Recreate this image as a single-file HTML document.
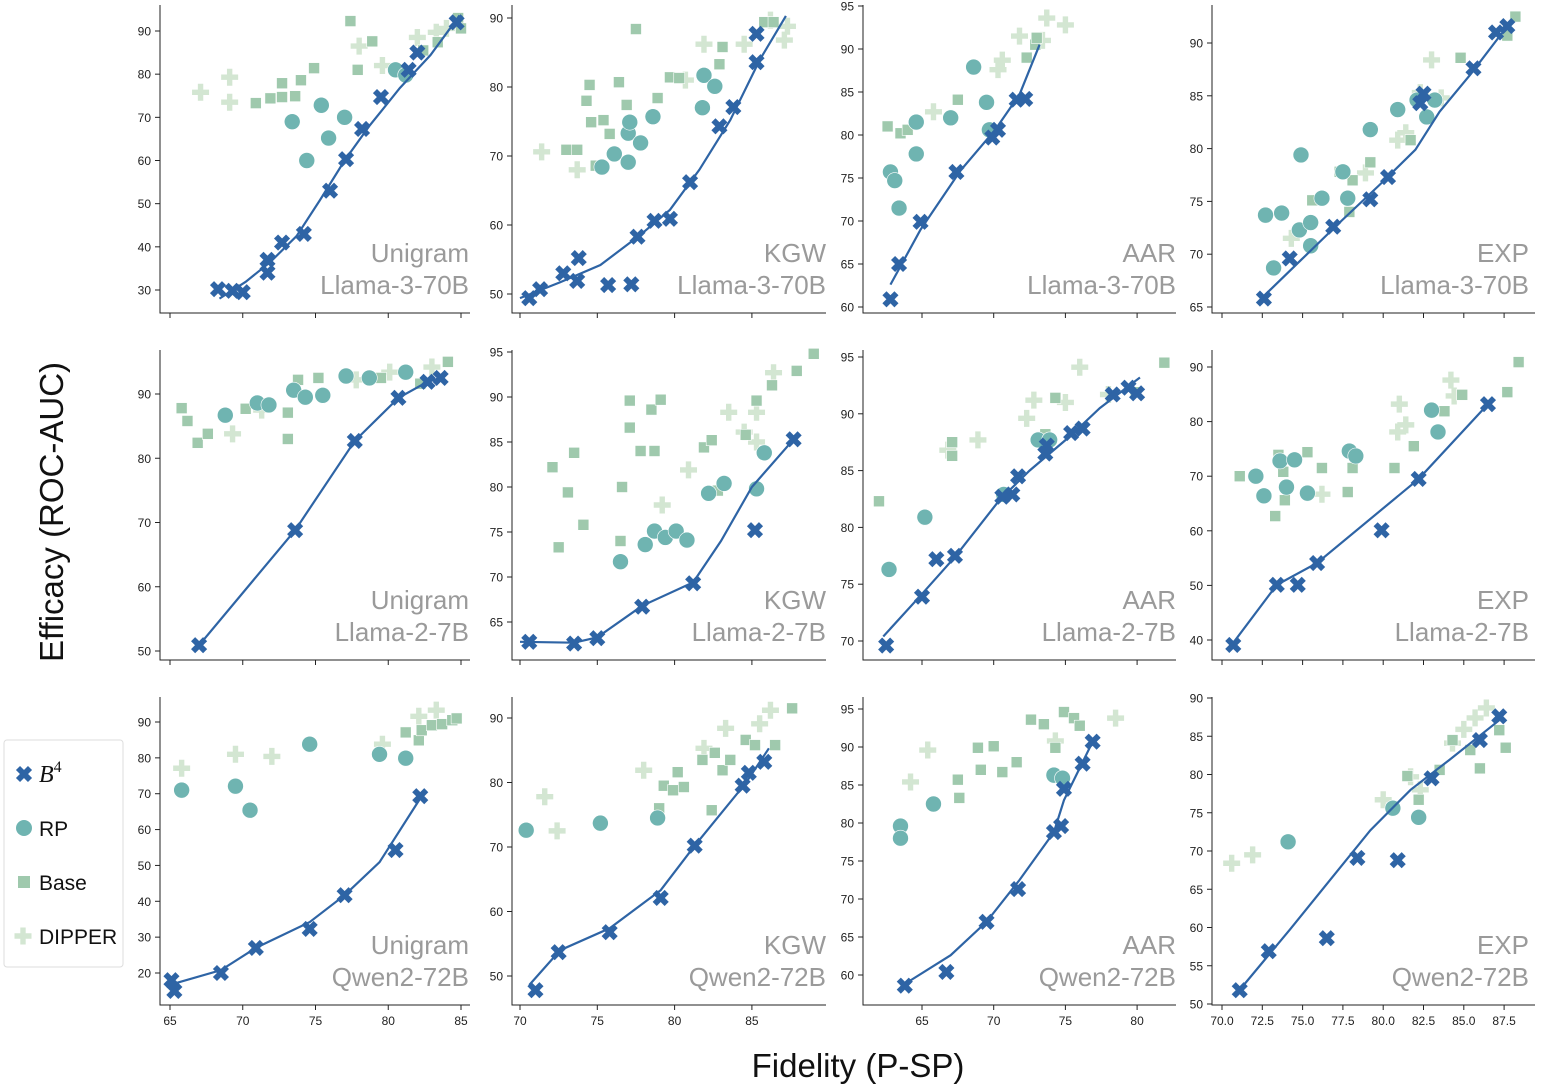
<!DOCTYPE html>
<html><head><meta charset="utf-8"><style>
body{margin:0;background:#fff;}
svg{display:block;font-family:"Liberation Sans","DejaVu Sans",sans-serif;}
</style></head><body>
<svg id="chart" width="1544" height="1086" viewBox="0 0 1544 1086"></svg>
<script>
// ---- data (x = fidelity, y = efficacy) ----
const u3_b4=[[68.3,30.2],[69.3,29.8],[70,29.5],[71.7,37],[71.7,34],[72.7,41],[74.2,43],[76,53],[77.1,60.3],[78.2,67.3],[79.5,74.7],[81.4,81],[82,85],[84.7,92]];
const u3_line=[[68.4,28],[70.2,31.9],[71.9,36.5],[73.7,42.5],[75.3,50.8],[77,60],[78.7,68],[80.8,76.8],[82.9,84.4],[84.9,93.6]];
const u3_rp=[[73.4,69],[74.4,60],[75.4,72.8],[75.9,65.2],[77,70],[80.5,81],[81.2,79.8]];
const u3_base=[[70.9,73.3],[71.9,74.4],[72.7,77.9],[72.7,74.7],[73.6,74.9],[74,78.6],[74.9,81.4],[77.4,92.3],[77.9,81],[78.9,87.6],[82.4,85.5],[83.4,87.4],[84.8,93],[85,90.6]];
const u3_dip=[[67.1,75.8],[69.1,79.3],[69.1,73.5],[78,86.5],[79.6,82],[82,88.5],[83.3,89.7],[84,90.6]];

const k3_b4=[[70.6,49.4],[71.3,50.7],[72.8,53],[73.7,51.9],[73.8,55.2],[75.7,51.3],[77.2,51.4],[77.6,58.3],[78.7,60.6],[79.7,60.9],[81,66.2],[82.9,74.3],[83.8,77.1],[85.3,83.6],[85.3,87.7]];
const k3_line=[[70,49.4],[72.6,51.7],[75.2,54.2],[77.8,58.6],[79.7,62.2],[81.6,68],[83.6,75.2],[85.5,83.9],[87.2,90.3]];
const k3_rp=[[75.3,68.4],[76.1,70.3],[77,73.3],[77.1,74.9],[77.8,71.9],[77,69.1],[78.6,75.7],[81.8,77],[81.9,81.7],[82.6,80.1]];
const k3_base=[[73,70.9],[73.7,70.9],[74.5,80.3],[74.3,78],[74.6,74.9],[75.4,75.2],[75.8,73.2],[74.9,68.6],[76.4,80.7],[76.9,77.4],[77.5,88.4],[78.9,78.4],[79.7,81.4],[80.3,81.3],[82.9,83.3],[83.1,85.8],[85.8,89.4],[86.4,89.4]];
const k3_dip=[[71.4,70.6],[73.7,68],[80.7,81],[81.9,86.2],[84.5,86.2],[87.1,86.8],[86.2,89.7],[87.3,88.8]];

const a3_b4=[[62.8,60.9],[63.4,65],[64.9,69.9],[67.4,75.7],[69.9,79.7],[70.3,80.6],[71.6,84.1],[72.2,84.2]];
const a3_line=[[62.8,62.6],[64.9,69],[67.7,75.9],[70.1,80.6],[71.8,84.7],[73.2,90.5]];
const a3_rp=[[62.8,75.7],[63.1,74.7],[63.4,71.5],[64.6,81.5],[64.6,77.8],[67,82],[68.6,87.9],[69.5,83.8],[69.7,80.6]];
const a3_base=[[62.6,81],[63.5,80.2],[64,80.6],[67.5,84.1],[72.3,89],[72.9,90.5],[73,91.3]];
const a3_dip=[[65.8,82.7],[70.3,87.6],[70.6,88.7],[71.8,91.5],[73.7,93.6],[75,92.8],[73.4,91]];

const e3_b4=[[72.6,65.8],[74.2,69.6],[76.9,72.6],[79.2,75.2],[80.3,77.3],[82.3,84.3],[82.5,85.2],[85.6,87.6],[87,91],[87.7,91.6]];
const e3_line=[[72.5,65.9],[74.8,69.3],[77.3,73],[79.8,76.6],[82,79.9],[83.5,83.5],[85.4,87],[87.9,92]];
const e3_rp=[[72.7,73.7],[73.2,68.7],[73.7,73.9],[74.8,72.3],[74.9,79.4],[75.5,73],[75.5,70.8],[76.2,75.3],[77.5,77.8],[77.8,75.3],[79.2,81.8],[80.9,83.7],[82.1,84.6],[82.7,83],[83.2,84.6]];
const e3_base=[[75.6,75.1],[77.3,77.8],[77.9,74],[78.1,77],[79.2,78.7],[81.7,80.8],[84.8,88.6],[87.7,90.7],[88.2,92.5]];
const e3_dip=[[74.3,71.5],[78.9,77.7],[80.9,80.8],[81.4,81.5],[82.3,85.3],[83,88.4],[83.6,84.8]];

const u2_b4=[[67,50.9],[73.6,68.8],[77.7,82.7],[80.7,89.4],[82.7,91.9],[83.6,92.5]];
const u2_line=[[67,50.9],[73.6,68.8],[77.7,82.7],[80.7,89.4],[82.7,91.9],[83.6,92.5]];
const u2_rp=[[68.8,86.7],[71,88.6],[71.8,88.3],[73.5,90.6],[74.3,89.5],[75.5,89.8],[77.1,92.8],[78.7,92.5],[81.2,93.4]];
const u2_base=[[65.8,87.8],[66.2,85.8],[66.9,82.4],[67.6,83.8],[70.2,87.7],[73.1,87.1],[73.1,83],[73.8,92.2],[75.2,92.5],[79.5,92.5],[82.2,91.6],[84.1,95]];
const u2_dip=[[69.3,83.8],[71.3,87.5],[77.8,92.2],[80.1,93.4],[83,94.2]];

const k2_b4=[[70.6,62.8],[73.5,62.6],[75,63.2],[77.9,66.7],[81.2,69.3],[85.2,75.2],[87.7,85.3]];
const k2_line=[[70,62.8],[73.5,62.7],[75,63.3],[77.9,66.8],[81.2,69.4],[83,74],[85,80],[87.7,85.3]];
const k2_rp=[[76.5,71.7],[78.1,73.6],[78.7,75.1],[79.4,74.4],[80.1,75.1],[80.8,74.1],[82.2,79.3],[83.2,80.4],[85.3,79.8],[85.8,83.8]];
const k2_base=[[72.1,82.2],[72.5,73.3],[73.1,79.4],[73.5,83.8],[74.1,75.8],[76.6,80],[76.5,74],[77.1,89.6],[77.1,86.6],[77.8,84],[78.5,88.6],[78.7,84],[79.1,89.7],[81.9,84.4],[82.4,85.2],[82.8,79.6],[84.6,85.8],[85.3,89.6],[86.3,91.3],[87.9,92.9],[89,94.8]];
const k2_dip=[[79.2,78],[80.9,81.9],[83.5,88.3],[84.5,86.1],[85.3,88.3],[86.4,92.7],[85.3,85]];

const a2_b4=[[62.5,69.6],[65,73.9],[66,77.2],[67.3,77.5],[70.6,82.7],[71.3,82.9],[71.7,84.5],[73.6,86.5],[73.7,87.2],[75.4,88.3],[76.2,88.7],[78.3,91.7],[79.4,92.3],[80,91.8]];
const a2_line=[[62.3,70.4],[64.9,74],[67.3,77.4],[70.4,82.4],[72.5,85],[75.3,88],[77.4,90.5],[80.2,93.2]];
const a2_rp=[[62.7,76.3],[65.2,80.9],[70.7,82.9],[73.1,87.7],[73.9,87.7]];
const a2_base=[[62,82.3],[67.1,87.5],[67.1,86.3],[73.6,88.2],[74.3,91.4],[79.9,91.9],[81.9,94.5]];
const a2_dip=[[66.8,86.8],[68.9,87.7],[72.3,89.6],[72.8,91.2],[75,91],[76,94.1],[78,91.7]];

const e2_b4=[[70.7,39.1],[73.4,50.1],[74.7,50.1],[75.9,54.1],[79.9,60.1],[82.2,69.5],[86.5,83.2]];
const e2_line=[[70.6,39.1],[73.4,50.1],[75.9,54.1],[82.2,69.5],[86.5,83.2]];
const e2_rp=[[72.1,70],[72.6,66.4],[73.6,72.8],[74,68],[74.5,73],[75.3,66.9],[77.9,74.6],[78.3,73.7],[83,82.1],[83.4,78.1]];
const e2_base=[[71.1,70],[73.3,62.7],[73.5,73.9],[73.8,70.8],[73.9,65.6],[75.3,74.4],[76.2,71.5],[77.8,67.1],[78.1,71.5],[80.7,71.5],[81.9,75.5],[83.8,81.9],[84.9,84.9],[87.7,85.4],[88.4,90.9]];
const e2_dip=[[76.2,66.7],[80.9,78.1],[81,83.2],[81.4,79.4],[84.2,87.6],[84.4,84.7]];

const uq_b4=[[65.1,18],[65.3,15],[68.5,20],[70.9,27],[74.6,32.3],[77,41.7],[80.5,54.3],[82.2,69.3]];
const uq_line=[[65,16.7],[68.5,20.8],[70.9,27],[74.6,34.2],[77,41.7],[79.4,50.9],[82.2,68.7]];
const uq_rp=[[65.8,71],[69.5,72.1],[70.5,65.4],[74.6,83.8],[79.4,81],[81.2,79.9]];
const uq_base=[[81.2,87.1],[82.1,84.9],[82.3,87.7],[83,89.1],[83.7,89.4],[84.4,90.5],[84.7,91]];
const uq_dip=[[65.8,77.1],[69.5,81],[72,80.4],[79.6,83.8],[82.1,91.6],[83.3,93.3]];

const kq_b4=[[71,47.8],[72.5,53.7],[75.8,56.8],[79.1,62.1],[81.3,70.2],[84.4,79.5],[84.8,81.5],[85.8,83.2]];
const kq_line=[[70.6,48.6],[72.6,54],[75.8,57.4],[79.1,63.3],[81.3,70.2],[84.6,79.9],[86.1,85.3]];
const kq_rp=[[70.4,72.6],[75.2,73.7],[78.9,74.5]];
const kq_base=[[79,76],[79.3,79.5],[79.9,78.8],[80.2,81.6],[80.6,79.3],[81.8,83.5],[82.4,75.7],[82.6,84.6],[83.1,81.9],[83.6,83.5],[84.6,86.6],[85.2,85.8],[86.5,85.8],[87.6,91.5]];
const kq_dip=[[71.6,77.8],[72.4,72.5],[78,81.9],[81.9,85.3],[83.3,88.4],[85.5,89.1],[86.2,91.2]];

const aq_b4=[[63.8,58.6],[66.7,60.4],[69.5,67],[71.7,71.3],[74.2,78.8],[74.7,79.6],[74.9,84.5],[76.2,87.8],[76.9,90.7]];
const aq_line=[[63.7,58.7],[67,62.6],[69.5,67],[71.8,72.5],[74.2,78.8],[74.9,83],[76.9,90.7]];
const aq_rp=[[63.5,79.6],[63.5,78],[65.8,82.5],[74.2,86.3],[74.8,85.9]];
const aq_base=[[67.5,85.7],[67.6,83.3],[68.9,89.9],[69.1,87],[70,90.1],[70.6,86.7],[71.6,88],[72.6,93.6],[73.5,93],[74.3,89.9],[74.9,94.6],[75.6,93.8],[76,92.8]];
const aq_dip=[[64.2,85.4],[65.4,89.6],[74.3,90.8],[78.5,93.8]];

const eq_b4=[[71.1,51.8],[72.9,56.9],[76.5,58.6],[78.4,69.1],[80.9,68.8],[83,79.5],[86,84.5],[87.2,87.6]];
const eq_line=[[71,51.6],[74.2,59.7],[76.7,66.2],[79.2,72.7],[81.7,78],[84.1,81.9],[87.2,87.1]];
const eq_rp=[[74.1,71.2],[80.6,75.6],[82.2,74.4]];
const eq_base=[[81.5,79.8],[82.2,76.7],[83.5,80.6],[84.3,84.5],[85.4,83.2],[86,80.8],[87.2,85.8],[87.6,83.5]];
const eq_dip=[[70.6,68.4],[71.9,69.5],[80,76.7],[81.7,79.7],[82.3,78],[84.3,84.1],[85,85.9],[85.7,87.4],[86.4,88.7]];

const xTicks=[[65,70,75,80,85],[70,75,80,85],[65,70,75,80],[70,72.5,75,77.5,80,82.5,85,87.5]];
const yTicks=[
 [30,40,50,60,70,80,90],[50,60,70,80,90],[60,65,70,75,80,85,90,95],[65,70,75,80,85,90],
 [50,60,70,80,90],[65,70,75,80,85,90,95],[70,75,80,85,90,95],[40,50,60,70,80,90],
 [20,30,40,50,60,70,80,90],[50,60,70,80,90],[60,65,70,75,80,85,90,95],[50,55,60,65,70,75,80,85,90]];
const methods=["Unigram","KGW","AAR","EXP"];
const models=["Llama-3-70B","Llama-2-7B","Qwen2-72B"];
const panelData=[
 [u3_b4,u3_line,u3_rp,u3_base,u3_dip],[k3_b4,k3_line,k3_rp,k3_base,k3_dip],[a3_b4,a3_line,a3_rp,a3_base,a3_dip],[e3_b4,e3_line,e3_rp,e3_base,e3_dip],
 [u2_b4,u2_line,u2_rp,u2_base,u2_dip],[k2_b4,k2_line,k2_rp,k2_base,k2_dip],[a2_b4,a2_line,a2_rp,a2_base,a2_dip],[e2_b4,e2_line,e2_rp,e2_base,e2_dip],
 [uq_b4,uq_line,uq_rp,uq_base,uq_dip],[kq_b4,kq_line,kq_rp,kq_base,kq_dip],[aq_b4,aq_line,aq_rp,aq_base,aq_dip],[eq_b4,eq_line,eq_rp,eq_base,eq_dip]];

const colX=[{v0:65,p0:170,s:14.55,L:160,R:470},{v0:70,p0:520,s:15.46,L:512,R:826},{v0:65,p0:922,s:14.34,L:863,R:1176},{v0:70,p0:1222,s:16.12,L:1212,R:1535}];
const rowB=[{T:5,B:313},{T:350,B:660},{T:697,B:1005}];
const yCal=[[30,290,90,31],[50,294,90,18],[60,307,95,6],[65,307,90,43],
 [50,651,90,394],[65,622,95,352],[70,641,95,357],[40,640,90,367],
 [20,973,90,722],[50,976,90,718],[60,975,95,709],[50,1004,90,698]];
const labRight=[469,826,1176,1529];
const C={b4:"#2e64a5",rp:"#6fb4b1",base:"#9fc9ad",dip:"#d3e6d2",ax:"#222"};
const NS="http://www.w3.org/2000/svg";
const svg=document.getElementById('chart');
function mk(tag,attrs,parent){const e=document.createElementNS(NS,tag);for(const k in attrs)e.setAttribute(k,attrs[k]);(parent||svg).appendChild(e);return e;}
function xMark(g,x,y,col,t){
 const gg=mk('g',{transform:`translate(${x},${y})`},g);
 
 
 mk('rect',{x:-8.5,y:-2.9,width:17,height:5.8,fill:col,transform:'rotate(45)'},gg);
 mk('rect',{x:-8.5,y:-2.9,width:17,height:5.8,fill:col,transform:'rotate(-45)'},gg);
}
function plusMark(g,x,y,col,t){
 const d=`M${x-2.7},${y-8.5} H${x+2.7} V${y-2.7} H${x+8.5} V${y+2.7} H${x+2.7} V${y+8.5} H${x-2.7} V${y+2.7} H${x-8.5} V${y-2.7} H${x-2.7} Z`;
 const p=mk('path',{d:d,fill:col},g);
 
 
}
for(let i=0;i<12;i++){
 const r=Math.floor(i/4),c=i%4,cx=colX[c],rb=rowB[r],yc=yCal[i];
 const X=v=>cx.p0+(v-cx.v0)*cx.s;
 const Y=v=>yc[1]+(v-yc[0])*(yc[3]-yc[1])/(yc[2]-yc[0]);
 const g=mk('g',{});
 
 
 const sp=mk('path',{d:`M${cx.L},${rb.T} V${rb.B} H${cx.R}`,fill:'none',stroke:C.ax,'stroke-width':1},g);
 
 
 xTicks[c].forEach(v=>{
  const px=X(v);
  const tk=mk('line',{x1:px,x2:px,y1:rb.B,y2:rb.B+5,stroke:C.ax,'stroke-width':1},g);
  
  
  if(r===2){
   const t=mk('text',{x:px,y:rb.B+20,'text-anchor':'middle','font-size':12,fill:'#222'},g);
   t.textContent=(c===3?v.toFixed(1):v);
   
   
  }
 });
 yTicks[i].forEach(v=>{
  const py=Y(v);
  const tk=mk('line',{x1:cx.L-5,x2:cx.L,y1:py,y2:py,stroke:C.ax,'stroke-width':1},g);
  
  
  const t=mk('text',{x:cx.L-9,y:py+4.5,'text-anchor':'end','font-size':12,fill:'#222'},g);
  t.textContent=v;
  
  
 });
 const [b4,line,rp,base,dip]=panelData[i];
 const l1=mk('text',{x:labRight[c],y:rb.B-51,'text-anchor':'end','font-size':26,fill:'#9a9a9a'},g);
 l1.textContent=methods[c];
 
 
 const l2=mk('text',{x:labRight[c],y:rb.B-19,'text-anchor':'end','font-size':26,fill:'#9a9a9a'},g);
 l2.textContent=models[r];
 
 
 dip.forEach(p=>plusMark(g,X(p[0]),Y(p[1]),C.dip,'dipper-point'));
 base.forEach(p=>{const s=mk('rect',{x:X(p[0])-5.5,y:Y(p[1])-5.5,width:11,height:11,fill:C.base,stroke:'#fff','stroke-width':0.6},g);
  
  });
 rp.forEach(p=>{const s=mk('circle',{cx:X(p[0]),cy:Y(p[1]),r:8,fill:C.rp,stroke:'#fff','stroke-width':0.6},g);
  
  });
 const pl=mk('polyline',{points:line.map(p=>X(p[0])+','+Y(p[1])).join(' '),fill:'none',stroke:C.b4,'stroke-width':2.2},g);
 
 
 b4.forEach(p=>xMark(g,X(p[0]),Y(p[1]),C.b4,'b4-point'));
}
const yt=mk('text',{x:0,y:0,transform:'translate(63,512) rotate(-90)','text-anchor':'middle','font-size':33,fill:'#111'});
yt.textContent='Efficacy (ROC-AUC)';


const xt=mk('text',{x:858,y:1077,'text-anchor':'middle','font-size':33,fill:'#111'});
xt.textContent='Fidelity (P-SP)';


const lg=mk('g',{});


const lb=mk('rect',{x:4,y:740,width:119,height:227,rx:3,fill:'#fff',stroke:'#ddd','stroke-width':1},lg);


xMark(lg,24,774,C.b4,'legend-b4-marker');
const c1=mk('circle',{cx:24,cy:828,r:8,fill:C.rp},lg);


const s1=mk('rect',{x:18,y:876,width:12,height:12,fill:C.base},lg);


plusMark(lg,23,936,C.dip,'legend-dipper-marker');
const ents=[["B",774],["RP",828],["Base",882],["DIPPER",936]];
ents.forEach((e,k)=>{
 const t=mk('text',{x:39,y:e[1]+8,'font-size':21,fill:'#111'},lg);
 if(k===0){t.setAttribute('font-family','"Liberation Serif",serif');t.setAttribute('font-style','italic');t.setAttribute('font-size',24);
  t.textContent='B';const sup=mk('tspan',{dy:-10,'font-size':16,'font-style':'normal'},t);sup.textContent='4';}
 else t.textContent=e[0];
 
 
});
</script>
</body></html>
